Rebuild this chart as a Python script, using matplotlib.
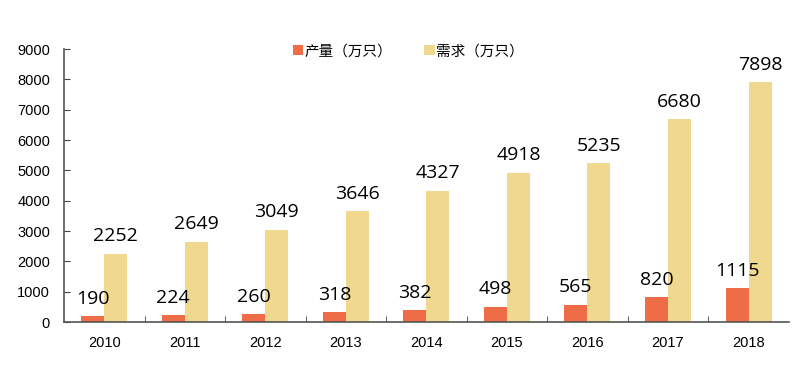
import numpy as np
import matplotlib.pyplot as plt
from matplotlib.ticker import FixedLocator, NullFormatter

years = ['2010', '2011', '2012', '2013', '2014', '2015', '2016', '2017', '2018']
output = [190, 224, 260, 318, 382, 498, 565, 820, 1115]
demand = [2252, 2649, 3049, 3646, 4327, 4918, 5235, 6680, 7898]

red = '#EE6D47'
yellow = '#F0D98E'

fig = plt.figure(figsize=(8, 3.66), dpi=100)
ax = fig.add_axes([0.08, 0.12, 0.906, 0.746])

x = np.arange(len(years))
w = 0.286
ax.bar(x - w / 2, output, w, color=red, label='产量（万只）')
ax.bar(x + w / 2, demand, w, color=yellow, label='需求（万只）')

for i in range(len(years)):
    ax.text(x[i] - w / 2, output[i] + 280, str(output[i]), ha='center', va='bottom',
            fontsize=14, family='Open Sans')
    ax.text(x[i] + w / 2, demand[i] + 280, str(demand[i]), ha='center', va='bottom',
            fontsize=14, family='Open Sans')

ax.set_xlim(-0.5, len(years) - 0.5)
ax.set_ylim(0, 9000)
ax.set_yticks(range(0, 9001, 1000))
ax.set_xticks(x)
ax.set_xticklabels(years, family='Liberation Sans', fontsize=10.5)
for lab in ax.get_yticklabels():
    lab.set_family('Liberation Sans')
    lab.set_fontsize(10.5)
ax.xaxis.set_minor_locator(FixedLocator(np.arange(0.5, len(years) - 1, 1)))
ax.xaxis.set_minor_formatter(NullFormatter())
ax.tick_params(axis='x', which='major', length=0, pad=10)
ax.tick_params(axis='x', which='minor', direction='in', length=4, color='#444444')
ax.tick_params(axis='y', direction='in', length=4, color='#444444', pad=10)

for s in ['top', 'right']:
    ax.spines[s].set_visible(False)
for s in ['left', 'bottom']:
    ax.spines[s].set_color('#555555')
    ax.spines[s].set_linewidth(1.2)

ax.legend(loc='upper center', bbox_to_anchor=(0.475, 1.065), ncol=2, frameon=False,
          prop={'family': ['Noto Sans CJK SC', 'DejaVu Sans'], 'size': 10.5},
          handlelength=0.7, handleheight=0.7, handletextpad=0.1, columnspacing=2.2)

fig.savefig('out.png', dpi=100)
